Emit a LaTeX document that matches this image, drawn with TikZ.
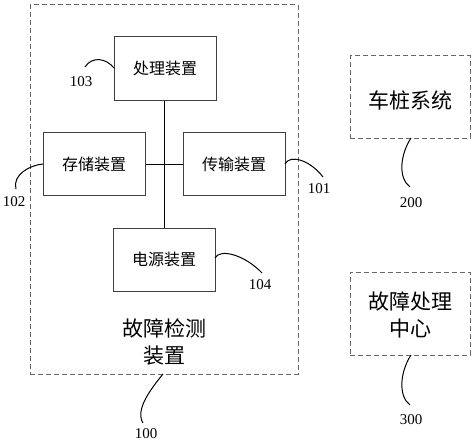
\documentclass[tikz,border=0pt]{standalone}
\usepackage{fontspec}
\setmainfont{Liberation Serif}
\newfontfamily\cjk{Noto Sans CJK SC}
\begin{document}
\begin{tikzpicture}[x=1pt,y=-1pt,
  unitbox/.style={draw=black!75,line width=1pt,minimum width=102pt,minimum height=63pt,inner sep=0pt,font=\cjk\fontsize{16}{19}\selectfont},
  dashbox/.style={draw=black!60,line width=1pt,dash pattern=on 5pt off 3pt,inner sep=0pt},
  bigtext/.style={font=\cjk\fontsize{21}{26}\selectfont,align=center,inner sep=0pt},
  numlabel/.style={font=\fontsize{15}{17}\selectfont,inner sep=0pt},
  leader/.style={draw=black,line width=1pt},
  link/.style={draw=black,line width=1pt}]
\useasboundingbox (0,0) rectangle (474,444);
% outer dashed box
\node[dashbox,minimum width=268pt,minimum height=369pt] (outer) at (164,189.5) {};
\node[bigtext] (outertxt) at (164,341.5) {故障检测\\[1pt]装置};
% inner units
\node[unitbox] (proc) at (165,68.5) {处理装置};
\node[unitbox] (stor) at (94,164) {存储装置};
\node[unitbox] (tran) at (234,164) {传输装置};
\node[unitbox] (powr) at (164,259.5) {电源装置};
\coordinate (hub) at (164,164);
\draw[link] (proc.south -| hub) -- (powr.north -| hub);
\draw[link] (stor.east) -- (tran.west);
% right boxes
\node[dashbox,minimum width=120pt,minimum height=82pt] (pile) at (410,97) {};
\node[bigtext] (piletxt) at (410,100) {车桩系统};
\node[dashbox,minimum width=120pt,minimum height=83pt] (ctr) at (410,313.5) {};
\node[bigtext] (ctrtxt) at (410,314.5) {故障处理\\[1pt]中心};
% labels
\node[numlabel] (l103) at (81,82) {103};
\node[numlabel] (l102) at (14,202) {102};
\node[numlabel] (l101) at (319,189) {101};
\node[numlabel] (l104) at (260,285) {104};
\node[numlabel] (l100) at (146,434) {100};
\node[numlabel] (l200) at (411,203) {200};
\node[numlabel] (l300) at (411,420) {300};
% leader curves
\coordinate (a103) at (114,68);
\coordinate (e103) at (85,67);
\draw[leader] (a103) .. controls (106,58) and (92,56) .. (e103);
\coordinate (a102) at (43,164);
\coordinate (e102) at (16,189);
\draw[leader] (a102) .. controls (30,165) and (12,175) .. (e102);
\coordinate (a101) at (285,164);
\coordinate (e101) at (323,177);
\draw[leader] (a101) .. controls (290,154) and (310,160) .. (e101);
\coordinate (a104) at (215,258);
\coordinate (e104) at (262,273);
\draw[leader] (a104) .. controls (220,248) and (245,255) .. (e104);
\coordinate (a100) at (163,374);
\coordinate (e100) at (143,423);
\draw[leader] (a100) .. controls (150,390) and (135,410) .. (e100);
\coordinate (a200) at (411,138);
\coordinate (e200) at (410,187);
\draw[leader] (a200) .. controls (400,155) and (398,178) .. (e200);
\coordinate (a300) at (411,355);
\coordinate (e300) at (410,405);
\draw[leader] (a300) .. controls (400,372) and (398,396) .. (e300);
\end{tikzpicture}
\end{document}
